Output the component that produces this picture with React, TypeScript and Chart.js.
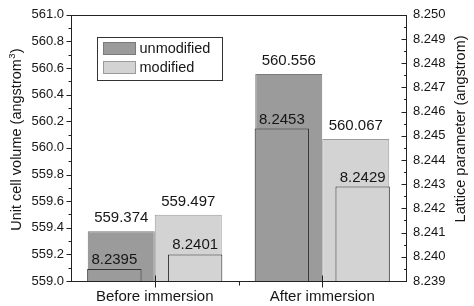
import React, { useEffect, useRef } from "react";
import { Chart, registerables } from "chart.js";

Chart.register(...registerables);

// ---- data ----
const categories = ["Before immersion", "After immersion"];
const seriesNames = ["unmodified", "modified"];
const unitCellUnmodified = [559.374, 560.556];
const unitCellModified = [559.497, 560.067];
const latticeUnmodified = [8.2395, 8.2453];
const latticeModified = [8.2401, 8.2429];

const volumeMin = 559.0;
const volumeMax = 561.0;
const volumeStep = 0.2;
const latticeMin = 8.239;
const latticeMax = 8.25;
const latticeStep = 0.001;

const leftTitleMain = "Unit cell volume (angstrom";
const leftTitleSup = "3";
const leftTitleEnd = ")";
const rightTitle = "Lattice parameter (angstrom)";

const FONT = "'Liberation Sans', Arial, Helvetica, sans-serif";
const INK = "#161616";
const DARK_FILL = "#9b9b9b";
const LIGHT_FILL = "#d3d3d3";

const decorPlugin = {
  id: "decor",
  beforeDraw(chart: any) {
    const ctx = chart.ctx;
    ctx.save();
    ctx.fillStyle = "#ffffff";
    ctx.fillRect(0, 0, chart.width, chart.height);
    ctx.restore();
  },
  afterDatasetsDraw(chart: any) {
    const ctx = chart.ctx;
    const ca = chart.chartArea;
    const yS = chart.scales.y;
    const y1S = chart.scales.y1;
    const xS = chart.scales.x;
    const L = Math.round(ca.left) + 0.5;
    const R = Math.round(ca.right) + 0.5;
    const T = Math.round(ca.top) + 0.5;
    const B = Math.round(ca.bottom) + 0.5;
    ctx.save();
    ctx.strokeStyle = "#222";
    ctx.lineWidth = 1;
    // frame
    ctx.strokeRect(L, T, R - L, B - T);

    const line = (x0: number, y0: number, x1: number, y1: number) => {
      ctx.beginPath();
      ctx.moveTo(x0, y0);
      ctx.lineTo(x1, y1);
      ctx.stroke();
    };

    // left axis ticks (outward)
    const lt = yS.ticks.map((t: any) => t.value);
    lt.forEach((v: number, i: number) => {
      const p = Math.round(yS.getPixelForValue(v)) + 0.5;
      line(L - 5, p, L, p);
      if (i < lt.length - 1) {
        const pm = Math.round(yS.getPixelForValue((v + lt[i + 1]) / 2)) + 0.5;
        line(L - 3, pm, L, pm);
      }
    });
    // right axis ticks (inward)
    const rt = y1S.ticks.map((t: any) => t.value);
    rt.forEach((v: number, i: number) => {
      const p = Math.round(y1S.getPixelForValue(v)) + 0.5;
      line(R - 5, p, R, p);
      if (i < rt.length - 1) {
        const pm = Math.round(y1S.getPixelForValue((v + rt[i + 1]) / 2)) + 0.5;
        line(R - 2.5, pm, R, pm);
      }
    });
    // x axis ticks
    const xp = categories.map((_, i) => Math.round(xS.getPixelForValue(i)) + 0.5);
    xp.forEach((p, i) => {
      line(p, B - 6, p, B + 6);
      if (i < xp.length - 1) {
        const pm = Math.round((p + xp[i + 1]) / 2) + 0.5;
        line(pm, B, pm, B + 4);
      }
    });

    // value labels
    ctx.fillStyle = INK;
    ctx.font = `15px ${FONT}`;
    ctx.textAlign = "center";
    ctx.textBaseline = "alphabetic";
    chart.data.datasets.forEach((ds: any, di: number) => {
      const meta = chart.getDatasetMeta(di);
      const gap = ds.decimals === 3 ? 9 : 5;
      meta.data.forEach((bar: any, j: number) => {
        const v = ds.data[j];
        ctx.fillText(Number(v).toFixed(ds.decimals), bar.x, bar.y - gap);
      });
    });

    // legend
    const bx = Math.round(ca.left) + 26.5;
    const by = Math.round(ca.top) + 22.5;
    ctx.fillStyle = "#ffffff";
    ctx.fillRect(bx, by, 125, 43);
    ctx.strokeStyle = "#333";
    ctx.strokeRect(bx, by, 125, 43);
    ctx.textAlign = "left";
    ctx.textBaseline = "middle";
    ctx.font = `14.5px ${FONT}`;
    [0, 1].forEach((di) => {
      const ds: any = chart.data.datasets[di];
      const sy = by + 5 + di * 19;
      ctx.fillStyle = ds.backgroundColor;
      ctx.fillRect(bx + 6, sy, 32, 12);
      ctx.strokeStyle = ds.borderColor;
      ctx.strokeRect(bx + 6, sy, 32, 12);
      ctx.fillStyle = INK;
      ctx.fillText(ds.label, bx + 42, sy + 6.5);
    });

    // axis titles
    const midY = (ca.top + ca.bottom) / 2;
    ctx.fillStyle = INK;
    ctx.textBaseline = "middle";
    ctx.textAlign = "left";
    ctx.save();
    ctx.translate(17, midY - 8);
    ctx.rotate(-Math.PI / 2);
    ctx.font = `14.5px ${FONT}`;
    const w1 = ctx.measureText(leftTitleMain).width;
    const w3 = ctx.measureText(leftTitleEnd).width;
    ctx.font = `9.5px ${FONT}`;
    const w2 = ctx.measureText(leftTitleSup).width;
    const start = -(w1 + w2 + w3) / 2;
    ctx.font = `14.5px ${FONT}`;
    ctx.fillText(leftTitleMain, start, 0);
    ctx.fillText(leftTitleEnd, start + w1 + w2 + 0.5, 0);
    ctx.font = `9.5px ${FONT}`;
    ctx.fillText(leftTitleSup, start + w1 + 0.5, -5);
    ctx.restore();

    ctx.save();
    ctx.translate(461, midY - 19);
    ctx.rotate(-Math.PI / 2);
    ctx.textAlign = "center";
    ctx.font = `14.5px ${FONT}`;
    ctx.fillText(rightTitle, 0, 0);
    ctx.restore();

    ctx.restore();
  },
};

export default function App() {
  const ref = useRef<HTMLCanvasElement | null>(null);
  useEffect(() => {
    if (!ref.current) return;
    const chart = new Chart(ref.current, {
      type: "bar",
      data: {
        labels: categories,
        datasets: [
          {
            label: seriesNames[0],
            data: unitCellUnmodified,
            yAxisID: "y",
            stack: "unmodified",
            order: 1,
            backgroundColor: DARK_FILL,
            borderColor: "#7a7a7a",
            borderWidth: 1,
            categoryPercentage: 0.8,
            barPercentage: 1.0,
            decimals: 3,
          } as any,
          {
            label: seriesNames[1],
            data: unitCellModified,
            yAxisID: "y",
            stack: "modified",
            order: 1,
            backgroundColor: LIGHT_FILL,
            borderColor: "#9a9a9a",
            borderWidth: 1,
            categoryPercentage: 0.8,
            barPercentage: 1.0,
            decimals: 3,
          } as any,
          {
            label: seriesNames[0] + " lattice",
            data: latticeUnmodified,
            yAxisID: "y1",
            stack: "unmodified",
            order: 0,
            backgroundColor: DARK_FILL,
            borderColor: "#333333",
            borderWidth: 1,
            categoryPercentage: 0.965,
            barPercentage: 0.673,
            decimals: 4,
          } as any,
          {
            label: seriesNames[1] + " lattice",
            data: latticeModified,
            yAxisID: "y1",
            stack: "modified",
            order: 0,
            backgroundColor: LIGHT_FILL,
            borderColor: "#333333",
            borderWidth: 1,
            categoryPercentage: 0.965,
            barPercentage: 0.673,
            decimals: 4,
          } as any,
        ],
      },
      options: {
        animation: false,
        responsive: false,
        devicePixelRatio: 1,
        layout: { padding: { top: 10, left: 0, right: 0, bottom: 0 } },
        plugins: { legend: { display: false }, tooltip: { enabled: false } },
        scales: {
          x: {
            type: "category",
            offset: true,
            grid: { display: false, drawTicks: false },
            border: { display: false },
            ticks: { padding: 7, color: INK, font: { family: FONT, size: 15 } },
            afterFit: (s: any) => {
              s.height = 25;
            },
          },
          y: {
            type: "linear",
            position: "left",
            min: volumeMin,
            max: volumeMax,
            beginAtZero: false,
            stacked: false,
            grid: { display: false, drawTicks: false },
            border: { display: false },
            ticks: {
              stepSize: volumeStep,
              padding: 7,
              color: INK,
              font: { family: FONT, size: 13 },
              autoSkip: false,
              callback: (v: any) => Number(v).toFixed(1),
            },
            afterFit: (s: any) => {
              s.width = 71;
            },
          },
          y1: {
            type: "linear",
            position: "right",
            min: latticeMin,
            max: latticeMax,
            beginAtZero: false,
            stacked: false,
            grid: { display: false, drawTicks: false },
            border: { display: false },
            ticks: {
              stepSize: latticeStep,
              padding: 7,
              color: INK,
              font: { family: FONT, size: 13 },
              autoSkip: false,
              callback: (v: any) => Number(v).toFixed(3),
            },
            afterFit: (s: any) => {
              s.width = 68;
            },
          },
        } as any,
      },
      plugins: [decorPlugin],
    });
    return () => chart.destroy();
  }, []);
  return (
    <canvas
      ref={ref}
      width={474}
      height={306}
      style={{ position: "absolute", left: 0, top: 0, display: "block", width: 474, height: 306 }}
    />
  );
}
